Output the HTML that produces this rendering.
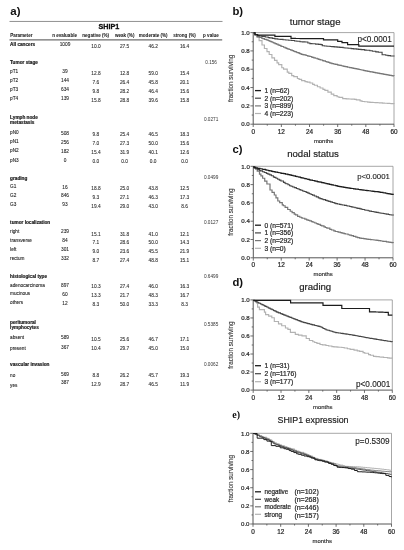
<!DOCTYPE html>
<html><head><meta charset="utf-8"><style>
html,body{margin:0;padding:0;background:#fff;}
svg{display:block;filter:blur(0.3px);}
</style></head><body>
<svg width="404" height="550" viewBox="0 0 404 550" font-family="'Liberation Sans', Arial, sans-serif">
<rect width="404" height="550" fill="#fff"/>
<text x="10.3" y="15.2" font-size="11.5" font-weight="bold" fill="#111">a)</text>
<line x1="9.5" y1="21.45" x2="222.5" y2="21.45" stroke="#8a8a8a" stroke-width="0.95"/>
<text x="108.9" y="28.5" font-size="7.2" font-weight="bold" text-anchor="middle" fill="#111" stroke="#111" stroke-width="0.3">SHIP1</text>
<text x="10.2" y="37.3" font-size="4.55" font-weight="bold" text-anchor="start" fill="#222" stroke="#222" stroke-width="0.05">Parameter</text>
<text x="64.6" y="37.3" font-size="4.55" font-weight="bold" text-anchor="middle" fill="#222" stroke="#222" stroke-width="0.05">n evaluable</text>
<text x="95.7" y="37.3" font-size="4.55" font-weight="bold" text-anchor="middle" fill="#222" stroke="#222" stroke-width="0.05">negative (%)</text>
<text x="124.7" y="37.3" font-size="4.55" font-weight="bold" text-anchor="middle" fill="#222" stroke="#222" stroke-width="0.05">weak (%)</text>
<text x="153.2" y="37.3" font-size="4.55" font-weight="bold" text-anchor="middle" fill="#222" stroke="#222" stroke-width="0.05">moderate (%)</text>
<text x="184.5" y="37.3" font-size="4.55" font-weight="bold" text-anchor="middle" fill="#222" stroke="#222" stroke-width="0.05">strong (%)</text>
<text x="210.9" y="37.3" font-size="4.55" font-weight="bold" text-anchor="middle" fill="#222" stroke="#222" stroke-width="0.05">p value</text>
<line x1="9.5" y1="39.75" x2="222.2" y2="39.75" stroke="#6e6e6e" stroke-width="1.25"/>
<text x="10.1" y="46.1" font-size="4.7" font-weight="bold" stroke="#1a1a1a" stroke-width="0.18" fill="#1a1a1a">All cancers</text>
<text x="65" y="46.3" font-size="4.8" text-anchor="middle" fill="#222" stroke="#222" stroke-width="0.08">1009</text>
<text x="95.9" y="48.2" font-size="4.8" text-anchor="middle" fill="#2a2a2a" stroke="#2a2a2a" stroke-width="0.08">10.0</text>
<text x="124.6" y="48.2" font-size="4.8" text-anchor="middle" fill="#2a2a2a" stroke="#2a2a2a" stroke-width="0.08">27.5</text>
<text x="153.2" y="48.2" font-size="4.8" text-anchor="middle" fill="#2a2a2a" stroke="#2a2a2a" stroke-width="0.08">46.2</text>
<text x="184.6" y="48.2" font-size="4.8" text-anchor="middle" fill="#2a2a2a" stroke="#2a2a2a" stroke-width="0.08">16.4</text>
<text x="10.1" y="64.0" font-size="4.7" font-weight="bold" stroke="#1a1a1a" stroke-width="0.18" fill="#1a1a1a">Tumor stage</text>
<text x="211.1" y="64.0" font-size="4.7" text-anchor="middle" fill="#333">0.156</text>
<text x="10.1" y="72.9" font-size="4.7" stroke="#2a2a2a" stroke-width="0.1" fill="#1a1a1a">pT1</text>
<text x="65" y="73.4" font-size="4.8" text-anchor="middle" fill="#222" stroke="#222" stroke-width="0.08">39</text>
<text x="95.9" y="74.7" font-size="4.8" text-anchor="middle" fill="#2a2a2a" stroke="#2a2a2a" stroke-width="0.08">12.8</text>
<text x="124.6" y="74.7" font-size="4.8" text-anchor="middle" fill="#2a2a2a" stroke="#2a2a2a" stroke-width="0.08">12.8</text>
<text x="153.2" y="74.7" font-size="4.8" text-anchor="middle" fill="#2a2a2a" stroke="#2a2a2a" stroke-width="0.08">59.0</text>
<text x="184.6" y="74.7" font-size="4.8" text-anchor="middle" fill="#2a2a2a" stroke="#2a2a2a" stroke-width="0.08">15.4</text>
<text x="10.1" y="81.8" font-size="4.7" stroke="#2a2a2a" stroke-width="0.1" fill="#1a1a1a">pT2</text>
<text x="65" y="82.3" font-size="4.8" text-anchor="middle" fill="#222" stroke="#222" stroke-width="0.08">144</text>
<text x="95.9" y="83.7" font-size="4.8" text-anchor="middle" fill="#2a2a2a" stroke="#2a2a2a" stroke-width="0.08">7.6</text>
<text x="124.6" y="83.7" font-size="4.8" text-anchor="middle" fill="#2a2a2a" stroke="#2a2a2a" stroke-width="0.08">26.4</text>
<text x="153.2" y="83.7" font-size="4.8" text-anchor="middle" fill="#2a2a2a" stroke="#2a2a2a" stroke-width="0.08">45.8</text>
<text x="184.6" y="83.7" font-size="4.8" text-anchor="middle" fill="#2a2a2a" stroke="#2a2a2a" stroke-width="0.08">20.1</text>
<text x="10.1" y="90.7" font-size="4.7" stroke="#2a2a2a" stroke-width="0.1" fill="#1a1a1a">pT3</text>
<text x="65" y="91.2" font-size="4.8" text-anchor="middle" fill="#222" stroke="#222" stroke-width="0.08">634</text>
<text x="95.9" y="92.6" font-size="4.8" text-anchor="middle" fill="#2a2a2a" stroke="#2a2a2a" stroke-width="0.08">9.8</text>
<text x="124.6" y="92.6" font-size="4.8" text-anchor="middle" fill="#2a2a2a" stroke="#2a2a2a" stroke-width="0.08">28.2</text>
<text x="153.2" y="92.6" font-size="4.8" text-anchor="middle" fill="#2a2a2a" stroke="#2a2a2a" stroke-width="0.08">46.4</text>
<text x="184.6" y="92.6" font-size="4.8" text-anchor="middle" fill="#2a2a2a" stroke="#2a2a2a" stroke-width="0.08">15.6</text>
<text x="10.1" y="99.8" font-size="4.7" stroke="#2a2a2a" stroke-width="0.1" fill="#1a1a1a">pT4</text>
<text x="65" y="100.3" font-size="4.8" text-anchor="middle" fill="#222" stroke="#222" stroke-width="0.08">139</text>
<text x="95.9" y="101.8" font-size="4.8" text-anchor="middle" fill="#2a2a2a" stroke="#2a2a2a" stroke-width="0.08">15.8</text>
<text x="124.6" y="101.8" font-size="4.8" text-anchor="middle" fill="#2a2a2a" stroke="#2a2a2a" stroke-width="0.08">28.8</text>
<text x="153.2" y="101.8" font-size="4.8" text-anchor="middle" fill="#2a2a2a" stroke="#2a2a2a" stroke-width="0.08">39.6</text>
<text x="184.6" y="101.8" font-size="4.8" text-anchor="middle" fill="#2a2a2a" stroke="#2a2a2a" stroke-width="0.08">15.8</text>
<text x="10.1" y="118.8" font-size="4.7" font-weight="bold" stroke="#1a1a1a" stroke-width="0.18" fill="#1a1a1a">Lymph node</text>
<text x="211.1" y="120.8" font-size="4.7" text-anchor="middle" fill="#333">0.0271</text>
<text x="10.1" y="124.4" font-size="4.7" font-weight="bold" stroke="#1a1a1a" stroke-width="0.18" fill="#1a1a1a">metastasis</text>
<text x="10.1" y="134.4" font-size="4.7" stroke="#2a2a2a" stroke-width="0.1" fill="#1a1a1a">pN0</text>
<text x="65" y="134.9" font-size="4.8" text-anchor="middle" fill="#222" stroke="#222" stroke-width="0.08">508</text>
<text x="95.9" y="136.4" font-size="4.8" text-anchor="middle" fill="#2a2a2a" stroke="#2a2a2a" stroke-width="0.08">9.8</text>
<text x="124.6" y="136.4" font-size="4.8" text-anchor="middle" fill="#2a2a2a" stroke="#2a2a2a" stroke-width="0.08">25.4</text>
<text x="153.2" y="136.4" font-size="4.8" text-anchor="middle" fill="#2a2a2a" stroke="#2a2a2a" stroke-width="0.08">46.5</text>
<text x="184.6" y="136.4" font-size="4.8" text-anchor="middle" fill="#2a2a2a" stroke="#2a2a2a" stroke-width="0.08">18.3</text>
<text x="10.1" y="143.4" font-size="4.7" stroke="#2a2a2a" stroke-width="0.1" fill="#1a1a1a">pN1</text>
<text x="65" y="143.9" font-size="4.8" text-anchor="middle" fill="#222" stroke="#222" stroke-width="0.08">256</text>
<text x="95.9" y="145.0" font-size="4.8" text-anchor="middle" fill="#2a2a2a" stroke="#2a2a2a" stroke-width="0.08">7.0</text>
<text x="124.6" y="145.0" font-size="4.8" text-anchor="middle" fill="#2a2a2a" stroke="#2a2a2a" stroke-width="0.08">27.3</text>
<text x="153.2" y="145.0" font-size="4.8" text-anchor="middle" fill="#2a2a2a" stroke="#2a2a2a" stroke-width="0.08">50.0</text>
<text x="184.6" y="145.0" font-size="4.8" text-anchor="middle" fill="#2a2a2a" stroke="#2a2a2a" stroke-width="0.08">15.6</text>
<text x="10.1" y="152.3" font-size="4.7" stroke="#2a2a2a" stroke-width="0.1" fill="#1a1a1a">pN2</text>
<text x="65" y="152.8" font-size="4.8" text-anchor="middle" fill="#222" stroke="#222" stroke-width="0.08">182</text>
<text x="95.9" y="154.0" font-size="4.8" text-anchor="middle" fill="#2a2a2a" stroke="#2a2a2a" stroke-width="0.08">15.4</text>
<text x="124.6" y="154.0" font-size="4.8" text-anchor="middle" fill="#2a2a2a" stroke="#2a2a2a" stroke-width="0.08">31.9</text>
<text x="153.2" y="154.0" font-size="4.8" text-anchor="middle" fill="#2a2a2a" stroke="#2a2a2a" stroke-width="0.08">40.1</text>
<text x="184.6" y="154.0" font-size="4.8" text-anchor="middle" fill="#2a2a2a" stroke="#2a2a2a" stroke-width="0.08">12.6</text>
<text x="10.1" y="161.6" font-size="4.7" stroke="#2a2a2a" stroke-width="0.1" fill="#1a1a1a">pN3</text>
<text x="65" y="162.1" font-size="4.8" text-anchor="middle" fill="#222" stroke="#222" stroke-width="0.08">0</text>
<text x="95.9" y="162.7" font-size="4.8" text-anchor="middle" fill="#2a2a2a" stroke="#2a2a2a" stroke-width="0.08">0.0</text>
<text x="124.6" y="162.7" font-size="4.8" text-anchor="middle" fill="#2a2a2a" stroke="#2a2a2a" stroke-width="0.08">0.0</text>
<text x="153.2" y="162.7" font-size="4.8" text-anchor="middle" fill="#2a2a2a" stroke="#2a2a2a" stroke-width="0.08">0.0</text>
<text x="184.6" y="162.7" font-size="4.8" text-anchor="middle" fill="#2a2a2a" stroke="#2a2a2a" stroke-width="0.08">0.0</text>
<text x="10.1" y="179.7" font-size="4.7" font-weight="bold" stroke="#1a1a1a" stroke-width="0.18" fill="#1a1a1a">grading</text>
<text x="211.1" y="179.4" font-size="4.7" text-anchor="middle" fill="#333">0.0499</text>
<text x="10.1" y="188.0" font-size="4.7" stroke="#2a2a2a" stroke-width="0.1" fill="#1a1a1a">G1</text>
<text x="65" y="188.5" font-size="4.8" text-anchor="middle" fill="#222" stroke="#222" stroke-width="0.08">16</text>
<text x="95.9" y="189.7" font-size="4.8" text-anchor="middle" fill="#2a2a2a" stroke="#2a2a2a" stroke-width="0.08">18.8</text>
<text x="124.6" y="189.7" font-size="4.8" text-anchor="middle" fill="#2a2a2a" stroke="#2a2a2a" stroke-width="0.08">25.0</text>
<text x="153.2" y="189.7" font-size="4.8" text-anchor="middle" fill="#2a2a2a" stroke="#2a2a2a" stroke-width="0.08">43.8</text>
<text x="184.6" y="189.7" font-size="4.8" text-anchor="middle" fill="#2a2a2a" stroke="#2a2a2a" stroke-width="0.08">12.5</text>
<text x="10.1" y="196.9" font-size="4.7" stroke="#2a2a2a" stroke-width="0.1" fill="#1a1a1a">G2</text>
<text x="65" y="197.4" font-size="4.8" text-anchor="middle" fill="#222" stroke="#222" stroke-width="0.08">846</text>
<text x="95.9" y="198.7" font-size="4.8" text-anchor="middle" fill="#2a2a2a" stroke="#2a2a2a" stroke-width="0.08">9.3</text>
<text x="124.6" y="198.7" font-size="4.8" text-anchor="middle" fill="#2a2a2a" stroke="#2a2a2a" stroke-width="0.08">27.1</text>
<text x="153.2" y="198.7" font-size="4.8" text-anchor="middle" fill="#2a2a2a" stroke="#2a2a2a" stroke-width="0.08">46.3</text>
<text x="184.6" y="198.7" font-size="4.8" text-anchor="middle" fill="#2a2a2a" stroke="#2a2a2a" stroke-width="0.08">17.3</text>
<text x="10.1" y="205.8" font-size="4.7" stroke="#2a2a2a" stroke-width="0.1" fill="#1a1a1a">G3</text>
<text x="65" y="206.3" font-size="4.8" text-anchor="middle" fill="#222" stroke="#222" stroke-width="0.08">93</text>
<text x="95.9" y="207.7" font-size="4.8" text-anchor="middle" fill="#2a2a2a" stroke="#2a2a2a" stroke-width="0.08">19.4</text>
<text x="124.6" y="207.7" font-size="4.8" text-anchor="middle" fill="#2a2a2a" stroke="#2a2a2a" stroke-width="0.08">29.0</text>
<text x="153.2" y="207.7" font-size="4.8" text-anchor="middle" fill="#2a2a2a" stroke="#2a2a2a" stroke-width="0.08">43.0</text>
<text x="184.6" y="207.7" font-size="4.8" text-anchor="middle" fill="#2a2a2a" stroke="#2a2a2a" stroke-width="0.08">8.6</text>
<text x="10.1" y="223.9" font-size="4.7" font-weight="bold" stroke="#1a1a1a" stroke-width="0.18" fill="#1a1a1a">tumor localization</text>
<text x="211.1" y="223.8" font-size="4.7" text-anchor="middle" fill="#333">0.0127</text>
<text x="10.1" y="232.8" font-size="4.7" stroke="#2a2a2a" stroke-width="0.1" fill="#1a1a1a">right</text>
<text x="65" y="233.3" font-size="4.8" text-anchor="middle" fill="#222" stroke="#222" stroke-width="0.08">239</text>
<text x="95.9" y="235.6" font-size="4.8" text-anchor="middle" fill="#2a2a2a" stroke="#2a2a2a" stroke-width="0.08">15.1</text>
<text x="124.6" y="235.6" font-size="4.8" text-anchor="middle" fill="#2a2a2a" stroke="#2a2a2a" stroke-width="0.08">31.8</text>
<text x="153.2" y="235.6" font-size="4.8" text-anchor="middle" fill="#2a2a2a" stroke="#2a2a2a" stroke-width="0.08">41.0</text>
<text x="184.6" y="235.6" font-size="4.8" text-anchor="middle" fill="#2a2a2a" stroke="#2a2a2a" stroke-width="0.08">12.1</text>
<text x="10.1" y="241.9" font-size="4.7" stroke="#2a2a2a" stroke-width="0.1" fill="#1a1a1a">transverse</text>
<text x="65" y="242.4" font-size="4.8" text-anchor="middle" fill="#222" stroke="#222" stroke-width="0.08">84</text>
<text x="95.9" y="244.2" font-size="4.8" text-anchor="middle" fill="#2a2a2a" stroke="#2a2a2a" stroke-width="0.08">7.1</text>
<text x="124.6" y="244.2" font-size="4.8" text-anchor="middle" fill="#2a2a2a" stroke="#2a2a2a" stroke-width="0.08">28.6</text>
<text x="153.2" y="244.2" font-size="4.8" text-anchor="middle" fill="#2a2a2a" stroke="#2a2a2a" stroke-width="0.08">50.0</text>
<text x="184.6" y="244.2" font-size="4.8" text-anchor="middle" fill="#2a2a2a" stroke="#2a2a2a" stroke-width="0.08">14.3</text>
<text x="10.1" y="250.7" font-size="4.7" stroke="#2a2a2a" stroke-width="0.1" fill="#1a1a1a">left</text>
<text x="65" y="251.2" font-size="4.8" text-anchor="middle" fill="#222" stroke="#222" stroke-width="0.08">301</text>
<text x="95.9" y="252.9" font-size="4.8" text-anchor="middle" fill="#2a2a2a" stroke="#2a2a2a" stroke-width="0.08">9.0</text>
<text x="124.6" y="252.9" font-size="4.8" text-anchor="middle" fill="#2a2a2a" stroke="#2a2a2a" stroke-width="0.08">23.6</text>
<text x="153.2" y="252.9" font-size="4.8" text-anchor="middle" fill="#2a2a2a" stroke="#2a2a2a" stroke-width="0.08">45.5</text>
<text x="184.6" y="252.9" font-size="4.8" text-anchor="middle" fill="#2a2a2a" stroke="#2a2a2a" stroke-width="0.08">21.9</text>
<text x="10.1" y="259.6" font-size="4.7" stroke="#2a2a2a" stroke-width="0.1" fill="#1a1a1a">rectum</text>
<text x="65" y="260.1" font-size="4.8" text-anchor="middle" fill="#222" stroke="#222" stroke-width="0.08">332</text>
<text x="95.9" y="261.5" font-size="4.8" text-anchor="middle" fill="#2a2a2a" stroke="#2a2a2a" stroke-width="0.08">8.7</text>
<text x="124.6" y="261.5" font-size="4.8" text-anchor="middle" fill="#2a2a2a" stroke="#2a2a2a" stroke-width="0.08">27.4</text>
<text x="153.2" y="261.5" font-size="4.8" text-anchor="middle" fill="#2a2a2a" stroke="#2a2a2a" stroke-width="0.08">48.8</text>
<text x="184.6" y="261.5" font-size="4.8" text-anchor="middle" fill="#2a2a2a" stroke="#2a2a2a" stroke-width="0.08">15.1</text>
<text x="10.1" y="277.6" font-size="4.7" font-weight="bold" stroke="#1a1a1a" stroke-width="0.18" fill="#1a1a1a">histological type</text>
<text x="211.1" y="277.5" font-size="4.7" text-anchor="middle" fill="#333">0.6499</text>
<text x="10.1" y="286.5" font-size="4.7" stroke="#2a2a2a" stroke-width="0.1" fill="#1a1a1a">adenocarcinoma</text>
<text x="65" y="287.0" font-size="4.8" text-anchor="middle" fill="#222" stroke="#222" stroke-width="0.08">897</text>
<text x="95.9" y="288.2" font-size="4.8" text-anchor="middle" fill="#2a2a2a" stroke="#2a2a2a" stroke-width="0.08">10.3</text>
<text x="124.6" y="288.2" font-size="4.8" text-anchor="middle" fill="#2a2a2a" stroke="#2a2a2a" stroke-width="0.08">27.4</text>
<text x="153.2" y="288.2" font-size="4.8" text-anchor="middle" fill="#2a2a2a" stroke="#2a2a2a" stroke-width="0.08">46.0</text>
<text x="184.6" y="288.2" font-size="4.8" text-anchor="middle" fill="#2a2a2a" stroke="#2a2a2a" stroke-width="0.08">16.3</text>
<text x="10.1" y="295.4" font-size="4.7" stroke="#2a2a2a" stroke-width="0.1" fill="#1a1a1a">mucinous</text>
<text x="65" y="295.9" font-size="4.8" text-anchor="middle" fill="#222" stroke="#222" stroke-width="0.08">60</text>
<text x="95.9" y="296.9" font-size="4.8" text-anchor="middle" fill="#2a2a2a" stroke="#2a2a2a" stroke-width="0.08">13.3</text>
<text x="124.6" y="296.9" font-size="4.8" text-anchor="middle" fill="#2a2a2a" stroke="#2a2a2a" stroke-width="0.08">21.7</text>
<text x="153.2" y="296.9" font-size="4.8" text-anchor="middle" fill="#2a2a2a" stroke="#2a2a2a" stroke-width="0.08">48.3</text>
<text x="184.6" y="296.9" font-size="4.8" text-anchor="middle" fill="#2a2a2a" stroke="#2a2a2a" stroke-width="0.08">16.7</text>
<text x="10.1" y="304.4" font-size="4.7" stroke="#2a2a2a" stroke-width="0.1" fill="#1a1a1a">others</text>
<text x="65" y="304.9" font-size="4.8" text-anchor="middle" fill="#222" stroke="#222" stroke-width="0.08">12</text>
<text x="95.9" y="306.2" font-size="4.8" text-anchor="middle" fill="#2a2a2a" stroke="#2a2a2a" stroke-width="0.08">8.3</text>
<text x="124.6" y="306.2" font-size="4.8" text-anchor="middle" fill="#2a2a2a" stroke="#2a2a2a" stroke-width="0.08">50.0</text>
<text x="153.2" y="306.2" font-size="4.8" text-anchor="middle" fill="#2a2a2a" stroke="#2a2a2a" stroke-width="0.08">33.3</text>
<text x="184.6" y="306.2" font-size="4.8" text-anchor="middle" fill="#2a2a2a" stroke="#2a2a2a" stroke-width="0.08">8.3</text>
<text x="10.1" y="323.8" font-size="4.7" font-weight="bold" stroke="#1a1a1a" stroke-width="0.18" fill="#1a1a1a">peritumoral</text>
<text x="211.1" y="326.3" font-size="4.7" text-anchor="middle" fill="#333">0.5385</text>
<text x="10.1" y="329.3" font-size="4.7" font-weight="bold" stroke="#1a1a1a" stroke-width="0.18" fill="#1a1a1a">lymphocytes</text>
<text x="10.1" y="339.2" font-size="4.7" stroke="#2a2a2a" stroke-width="0.1" fill="#1a1a1a">absent</text>
<text x="65" y="339.1" font-size="4.8" text-anchor="middle" fill="#222" stroke="#222" stroke-width="0.08">589</text>
<text x="95.9" y="341.1" font-size="4.8" text-anchor="middle" fill="#2a2a2a" stroke="#2a2a2a" stroke-width="0.08">10.5</text>
<text x="124.6" y="341.1" font-size="4.8" text-anchor="middle" fill="#2a2a2a" stroke="#2a2a2a" stroke-width="0.08">25.6</text>
<text x="153.2" y="341.1" font-size="4.8" text-anchor="middle" fill="#2a2a2a" stroke="#2a2a2a" stroke-width="0.08">46.7</text>
<text x="184.6" y="341.1" font-size="4.8" text-anchor="middle" fill="#2a2a2a" stroke="#2a2a2a" stroke-width="0.08">17.1</text>
<text x="10.1" y="350.1" font-size="4.7" stroke="#2a2a2a" stroke-width="0.1" fill="#1a1a1a">present</text>
<text x="65" y="348.6" font-size="4.8" text-anchor="middle" fill="#222" stroke="#222" stroke-width="0.08">367</text>
<text x="95.9" y="350.1" font-size="4.8" text-anchor="middle" fill="#2a2a2a" stroke="#2a2a2a" stroke-width="0.08">10.4</text>
<text x="124.6" y="350.1" font-size="4.8" text-anchor="middle" fill="#2a2a2a" stroke="#2a2a2a" stroke-width="0.08">29.7</text>
<text x="153.2" y="350.1" font-size="4.8" text-anchor="middle" fill="#2a2a2a" stroke="#2a2a2a" stroke-width="0.08">45.0</text>
<text x="184.6" y="350.1" font-size="4.8" text-anchor="middle" fill="#2a2a2a" stroke="#2a2a2a" stroke-width="0.08">15.0</text>
<text x="10.1" y="366.4" font-size="4.7" font-weight="bold" stroke="#1a1a1a" stroke-width="0.18" fill="#1a1a1a">vascular invasion</text>
<text x="211.1" y="366.4" font-size="4.7" text-anchor="middle" fill="#333">0.0062</text>
<text x="10.1" y="377.4" font-size="4.7" stroke="#2a2a2a" stroke-width="0.1" fill="#1a1a1a">no</text>
<text x="65" y="375.8" font-size="4.8" text-anchor="middle" fill="#222" stroke="#222" stroke-width="0.08">569</text>
<text x="95.9" y="376.8" font-size="4.8" text-anchor="middle" fill="#2a2a2a" stroke="#2a2a2a" stroke-width="0.08">8.8</text>
<text x="124.6" y="376.8" font-size="4.8" text-anchor="middle" fill="#2a2a2a" stroke="#2a2a2a" stroke-width="0.08">26.2</text>
<text x="153.2" y="376.8" font-size="4.8" text-anchor="middle" fill="#2a2a2a" stroke="#2a2a2a" stroke-width="0.08">45.7</text>
<text x="184.6" y="376.8" font-size="4.8" text-anchor="middle" fill="#2a2a2a" stroke="#2a2a2a" stroke-width="0.08">19.3</text>
<text x="10.1" y="386.7" font-size="4.7" stroke="#2a2a2a" stroke-width="0.1" fill="#1a1a1a">yes</text>
<text x="65" y="383.9" font-size="4.8" text-anchor="middle" fill="#222" stroke="#222" stroke-width="0.08">387</text>
<text x="95.9" y="385.8" font-size="4.8" text-anchor="middle" fill="#2a2a2a" stroke="#2a2a2a" stroke-width="0.08">12.9</text>
<text x="124.6" y="385.8" font-size="4.8" text-anchor="middle" fill="#2a2a2a" stroke="#2a2a2a" stroke-width="0.08">28.7</text>
<text x="153.2" y="385.8" font-size="4.8" text-anchor="middle" fill="#2a2a2a" stroke="#2a2a2a" stroke-width="0.08">46.5</text>
<text x="184.6" y="385.8" font-size="4.8" text-anchor="middle" fill="#2a2a2a" stroke="#2a2a2a" stroke-width="0.08">11.9</text>
<text x="232.4" y="15.0" font-size="11.3" font-weight="bold" fill="#111">b)</text>
<text x="315.2" y="25.1" font-size="9.6" text-anchor="middle" fill="#222" stroke="#222" stroke-width="0.18">tumor stage</text>
<path d="M253.2,32.6 H394.0 V124.2" fill="none" stroke="#909090" stroke-width="0.8"/>
<path d="M253.2,32.6 V124.2 H394.0" fill="none" stroke="#555" stroke-width="1.0"/>
<line x1="250.40" y1="124.20" x2="253.2" y2="124.20" stroke="#555" stroke-width="0.85"/>
<text x="249.70" y="126.40" font-size="6.1" text-anchor="end" fill="#2a2a2a" stroke="#2a2a2a" stroke-width="0.22">0.0</text>
<line x1="251.70" y1="115.04" x2="253.2" y2="115.04" stroke="#555" stroke-width="0.85"/>
<line x1="250.40" y1="105.88" x2="253.2" y2="105.88" stroke="#555" stroke-width="0.85"/>
<text x="249.70" y="108.08" font-size="6.1" text-anchor="end" fill="#2a2a2a" stroke="#2a2a2a" stroke-width="0.22">0.2</text>
<line x1="251.70" y1="96.72" x2="253.2" y2="96.72" stroke="#555" stroke-width="0.85"/>
<line x1="250.40" y1="87.56" x2="253.2" y2="87.56" stroke="#555" stroke-width="0.85"/>
<text x="249.70" y="89.76" font-size="6.1" text-anchor="end" fill="#2a2a2a" stroke="#2a2a2a" stroke-width="0.22">0.4</text>
<line x1="251.70" y1="78.40" x2="253.2" y2="78.40" stroke="#555" stroke-width="0.85"/>
<line x1="250.40" y1="69.24" x2="253.2" y2="69.24" stroke="#555" stroke-width="0.85"/>
<text x="249.70" y="71.44" font-size="6.1" text-anchor="end" fill="#2a2a2a" stroke="#2a2a2a" stroke-width="0.22">0.6</text>
<line x1="251.70" y1="60.08" x2="253.2" y2="60.08" stroke="#555" stroke-width="0.85"/>
<line x1="250.40" y1="50.92" x2="253.2" y2="50.92" stroke="#555" stroke-width="0.85"/>
<text x="249.70" y="53.12" font-size="6.1" text-anchor="end" fill="#2a2a2a" stroke="#2a2a2a" stroke-width="0.22">0.8</text>
<line x1="251.70" y1="41.76" x2="253.2" y2="41.76" stroke="#555" stroke-width="0.85"/>
<line x1="250.40" y1="32.60" x2="253.2" y2="32.60" stroke="#555" stroke-width="0.85"/>
<text x="249.70" y="34.80" font-size="6.1" text-anchor="end" fill="#2a2a2a" stroke="#2a2a2a" stroke-width="0.22">1.0</text>
<line x1="253.20" y1="124.2" x2="253.20" y2="127.0" stroke="#555" stroke-width="0.85"/>
<text x="253.20" y="133.80" font-size="6.4" text-anchor="middle" fill="#2a2a2a" stroke="#2a2a2a" stroke-width="0.22">0</text>
<line x1="267.28" y1="124.2" x2="267.28" y2="125.7" stroke="#555" stroke-width="0.85"/>
<line x1="281.36" y1="124.2" x2="281.36" y2="127.0" stroke="#555" stroke-width="0.85"/>
<text x="281.36" y="133.80" font-size="6.4" text-anchor="middle" fill="#2a2a2a" stroke="#2a2a2a" stroke-width="0.22">12</text>
<line x1="295.44" y1="124.2" x2="295.44" y2="125.7" stroke="#555" stroke-width="0.85"/>
<line x1="309.52" y1="124.2" x2="309.52" y2="127.0" stroke="#555" stroke-width="0.85"/>
<text x="309.52" y="133.80" font-size="6.4" text-anchor="middle" fill="#2a2a2a" stroke="#2a2a2a" stroke-width="0.22">24</text>
<line x1="323.60" y1="124.2" x2="323.60" y2="125.7" stroke="#555" stroke-width="0.85"/>
<line x1="337.68" y1="124.2" x2="337.68" y2="127.0" stroke="#555" stroke-width="0.85"/>
<text x="337.68" y="133.80" font-size="6.4" text-anchor="middle" fill="#2a2a2a" stroke="#2a2a2a" stroke-width="0.22">36</text>
<line x1="351.76" y1="124.2" x2="351.76" y2="125.7" stroke="#555" stroke-width="0.85"/>
<line x1="365.84" y1="124.2" x2="365.84" y2="127.0" stroke="#555" stroke-width="0.85"/>
<text x="365.84" y="133.80" font-size="6.4" text-anchor="middle" fill="#2a2a2a" stroke="#2a2a2a" stroke-width="0.22">48</text>
<line x1="379.92" y1="124.2" x2="379.92" y2="125.7" stroke="#555" stroke-width="0.85"/>
<line x1="394.00" y1="124.2" x2="394.00" y2="127.0" stroke="#555" stroke-width="0.85"/>
<text x="394.00" y="133.80" font-size="6.4" text-anchor="middle" fill="#2a2a2a" stroke="#2a2a2a" stroke-width="0.22">60</text>
<text x="323.60" y="142.6" font-size="5.9" text-anchor="middle" fill="#333" stroke="#333" stroke-width="0.18">months</text>
<text x="0" y="0" font-size="6.3" text-anchor="middle" fill="#333" stroke="#333" stroke-width="0.1" transform="translate(232.7,78.4) rotate(-90)">fraction surviving</text>
<path d="M253.50,32.80 L255.00,32.80 L255.00,34.60 L257.00,34.60 L257.00,37.40 L259.11,37.40 L259.11,40.60 L262.00,40.60 L262.00,45.00 L264.40,45.00 L264.40,48.50 L266.97,48.50 L266.97,51.68 L269.20,51.68 L269.20,54.46 L271.90,54.46 L271.90,57.80 L274.53,57.80 L274.53,60.43 L277.04,60.43 L277.04,62.94 L278.68,62.94 L278.68,64.58 L281.80,64.58 L281.80,67.70 L283.55,67.70 L283.55,69.10 L287.25,69.10 L287.25,72.05 L288.87,72.05 L288.87,73.34 L291.70,73.34 L291.70,75.60 L293.78,75.60 L293.78,76.65 L297.39,76.65 L297.39,78.47 L299.08,78.47 L299.08,79.33 L301.60,79.33 L301.60,80.60 L304.97,80.60 L304.97,81.56 L307.16,81.56 L307.16,82.19 L310.00,82.19 L310.00,83.00 L312.67,83.00 L312.67,84.34 L314.42,84.34 L314.42,85.21 L317.40,85.21 L317.40,86.70 L320.10,86.70 L320.10,88.03 L322.95,88.03 L322.95,89.44 L324.90,89.44 L324.90,90.40 L327.91,90.40 L327.91,92.16 L331.26,92.16 L331.26,94.12 L333.80,94.12 L333.80,95.60 L337.07,95.60 L337.07,96.70 L338.96,96.70 L338.96,97.34 L342.70,97.34 L342.70,98.60 L346.14,98.60 L346.14,98.80 L348.81,98.80 L348.81,98.96 L351.27,98.96 L351.27,99.10 L354.60,99.10 L354.60,99.30 L356.37,99.30 L356.37,99.83 L360.07,99.83 L360.07,100.93 L362.00,100.93 L362.00,101.50 L364.62,101.50 L364.62,101.76 L367.68,101.76 L367.68,102.07 L370.00,102.07 L370.00,102.30 L372.95,102.30 L372.95,102.48 L375.11,102.48 L375.11,102.62 L377.81,102.62 L377.81,102.79 L379.45,102.79 L379.45,102.89 L382.43,102.89 L382.43,103.08 L384.32,103.08 L384.32,103.20 L387.43,103.20 L387.43,103.39 L389.75,103.39 L389.75,103.53 L391.02,103.53 L391.02,103.61 L394.00,103.61 L394.00,103.80" fill="none" stroke="#b2b2b2" stroke-width="1.15" stroke-linejoin="miter"/>
<path d="M253.50,32.80 L255.00,32.80 L255.00,34.60 L257.00,34.60 L257.00,36.50 L258.16,36.50 L258.16,36.94 L259.71,36.94 L259.71,37.52 L261.85,37.52 L261.85,38.34 L262.86,38.34 L262.86,38.72 L264.40,38.72 L264.40,39.30 L266.34,39.30 L266.34,39.95 L268.00,39.95 L268.00,40.50 L269.22,40.50 L269.22,41.03 L270.77,41.03 L270.77,41.70 L272.05,41.70 L272.05,42.26 L273.40,42.26 L273.40,42.85 L274.97,42.85 L274.97,43.53 L276.35,43.53 L276.35,44.13 L277.99,44.13 L277.99,44.85 L279.19,44.85 L279.19,45.37 L280.78,45.37 L280.78,46.05 L281.80,46.05 L281.80,46.50 L283.57,46.50 L283.57,47.23 L285.15,47.23 L285.15,47.88 L286.33,47.88 L286.33,48.36 L287.34,48.36 L287.34,48.78 L289.10,48.78 L289.10,49.50 L290.79,49.50 L290.79,50.15 L292.26,50.15 L292.26,50.72 L293.60,50.72 L293.60,51.23 L294.71,51.23 L294.71,51.66 L296.22,51.66 L296.22,52.24 L297.19,52.24 L297.19,52.61 L299.10,52.61 L299.10,53.34 L300.27,53.34 L300.27,53.79 L301.60,53.79 L301.60,54.30 L302.80,54.30 L302.80,54.62 L304.00,54.62 L304.00,54.94 L306.04,54.94 L306.04,55.48 L307.54,55.48 L307.54,55.87 L308.18,55.87 L308.18,56.04 L309.90,56.04 L309.90,56.50 L311.57,56.50 L311.57,57.04 L312.65,57.04 L312.65,57.39 L313.85,57.39 L313.85,57.78 L315.38,57.78 L315.38,58.27 L317.20,58.27 L317.20,58.86 L318.70,58.86 L318.70,59.35 L319.80,59.35 L319.80,59.70 L320.78,59.70 L320.78,60.01 L322.58,60.01 L322.58,60.60 L323.47,60.60 L323.47,60.88 L325.35,60.88 L325.35,61.49 L326.39,61.49 L326.39,61.82 L328.17,61.82 L328.17,62.40 L329.60,62.40 L329.60,62.86 L330.56,62.86 L330.56,63.17 L331.90,63.17 L331.90,63.60 L333.68,63.60 L333.68,64.00 L334.48,64.00 L334.48,64.18 L335.66,64.18 L335.66,64.44 L337.46,64.44 L337.46,64.85 L338.36,64.85 L338.36,65.05 L339.87,65.05 L339.87,65.39 L341.41,65.39 L341.41,65.74 L342.94,65.74 L342.94,66.08 L343.94,66.08 L343.94,66.31 L345.22,66.31 L345.22,66.59 L347.26,66.59 L347.26,67.05 L348.18,67.05 L348.18,67.26 L349.70,67.26 L349.70,67.60 L351.38,67.60 L351.38,67.94 L352.65,67.94 L352.65,68.20 L353.56,68.20 L353.56,68.38 L354.95,68.38 L354.95,68.66 L356.32,68.66 L356.32,68.94 L357.73,68.94 L357.73,69.22 L359.02,69.22 L359.02,69.48 L360.31,69.48 L360.31,69.74 L361.68,69.74 L361.68,70.02 L363.25,70.02 L363.25,70.34 L364.23,70.34 L364.23,70.53 L365.49,70.53 L365.49,70.79 L367.03,70.79 L367.03,71.10 L367.97,71.10 L367.97,71.29 L369.50,71.29 L369.50,71.60 L370.70,71.60 L370.70,71.82 L372.61,71.82 L372.61,72.17 L373.60,72.17 L373.60,72.35 L374.98,72.35 L374.98,72.61 L375.91,72.61 L375.91,72.78 L377.60,72.78 L377.60,73.09 L379.09,73.09 L379.09,73.36 L380.00,73.36 L380.00,73.53 L381.84,73.53 L381.84,73.87 L383.22,73.87 L383.22,74.12 L384.11,74.12 L384.11,74.28 L385.94,74.28 L385.94,74.62 L387.17,74.62 L387.17,74.84 L388.70,74.84 L388.70,75.13 L389.80,75.13 L389.80,75.33 L391.45,75.33 L391.45,75.63 L392.83,75.63 L392.83,75.89 L394.00,75.89 L394.00,76.10" fill="none" stroke="#767676" stroke-width="1.2" stroke-linejoin="miter"/>
<path d="M253.50,32.80 L255.00,32.80 L255.00,34.60 L257.60,34.60 L257.60,35.60 L259.36,35.60 L259.36,35.94 L261.89,35.94 L261.89,36.42 L265.28,36.42 L265.28,37.06 L268.17,37.06 L268.17,37.62 L269.59,37.62 L269.59,37.89 L272.36,37.89 L272.36,38.42 L274.90,38.42 L274.90,38.90 L277.84,38.90 L277.84,39.18 L280.17,39.18 L280.17,39.40 L283.02,39.40 L283.02,39.68 L285.72,39.68 L285.72,39.94 L288.60,39.94 L288.60,40.21 L291.60,40.21 L291.60,40.50 L294.56,40.50 L294.56,40.96 L296.86,40.96 L296.86,41.31 L300.00,41.31 L300.00,41.80 L302.32,41.80 L302.32,41.89 L305.00,41.89 L305.00,42.00 L307.85,42.00 L307.85,42.93 L309.90,42.93 L309.90,43.60 L311.89,43.60 L311.89,43.78 L315.57,43.78 L315.57,44.11 L318.62,44.11 L318.62,44.39 L321.00,44.39 L321.00,44.60 L322.30,44.60 L322.30,45.80 L324.49,45.80 L324.49,45.99 L326.82,45.99 L326.82,46.20 L330.15,46.20 L330.15,46.49 L331.78,46.49 L331.78,46.63 L334.17,46.63 L334.17,46.84 L337.10,46.84 L337.10,47.10 L339.81,47.10 L339.81,47.39 L343.08,47.39 L343.08,47.74 L344.89,47.74 L344.89,47.93 L348.08,47.93 L348.08,48.27 L351.20,48.27 L351.20,48.60 L353.43,48.60 L353.43,48.83 L356.65,48.83 L356.65,49.15 L358.53,49.15 L358.53,49.34 L361.10,49.34 L361.10,49.60 L364.62,49.60 L364.62,50.09 L366.32,50.09 L366.32,50.32 L369.80,50.32 L369.80,50.80 L372.39,50.80 L372.39,51.25 L375.79,51.25 L375.79,51.85 L378.40,51.85 L378.40,52.30 L382.10,52.30 L382.10,54.80 L385.76,54.80 L385.76,55.29 L387.96,55.29 L387.96,55.59 L390.53,55.59 L390.53,55.93 L394.00,55.93 L394.00,56.40" fill="none" stroke="#454545" stroke-width="1.1" stroke-linejoin="miter"/>
<path d="M253.50,32.80 L255.00,32.80 L255.00,34.60 L257.60,34.60 L257.60,35.20 L274.90,35.20 L274.90,36.40 L291.00,36.40 L291.00,38.40 L292.70,38.40 L292.70,38.43 L295.44,38.43 L295.44,38.48 L297.19,38.48 L297.19,38.51 L300.20,38.51 L300.20,38.57 L302.00,38.57 L302.00,38.60 L304.87,38.60 L304.87,38.61 L306.32,38.61 L306.32,38.62 L308.85,38.62 L308.85,38.63 L312.00,38.63 L312.00,38.65 L314.15,38.65 L314.15,38.66 L316.77,38.66 L316.77,38.67 L318.50,38.67 L318.50,38.68 L320.58,38.68 L320.58,38.69 L323.50,38.69 L323.50,38.70 L323.50,39.90 L337.70,39.90 L337.70,41.40 L342.00,41.40 L342.00,42.70 L347.60,42.70 L347.60,44.60 L358.80,44.60 L358.80,46.10 L394.00,46.10" fill="none" stroke="#1c1c1c" stroke-width="1.2" stroke-linejoin="miter"/>
<line x1="255" y1="90.6" x2="261" y2="90.6" stroke="#1c1c1c" stroke-width="1.3"/>
<text x="264.4" y="93.0" font-size="6.7" fill="#2a2a2a" stroke="#2a2a2a" stroke-width="0.22">1 (n=62)</text>
<line x1="255" y1="98.2" x2="261" y2="98.2" stroke="#454545" stroke-width="1.2"/>
<text x="264.4" y="100.7" font-size="6.7" fill="#2a2a2a" stroke="#2a2a2a" stroke-width="0.22">2 (n=202)</text>
<line x1="255" y1="105.9" x2="261" y2="105.9" stroke="#767676" stroke-width="1.2"/>
<text x="264.4" y="108.3" font-size="6.7" fill="#2a2a2a" stroke="#2a2a2a" stroke-width="0.22">3 (n=899)</text>
<line x1="255" y1="113.5" x2="261" y2="113.5" stroke="#b2b2b2" stroke-width="1.2"/>
<text x="264.4" y="116.0" font-size="6.7" fill="#2a2a2a" stroke="#2a2a2a" stroke-width="0.22">4 (n=223)</text>
<text x="391.9" y="42.4" font-size="8.2" text-anchor="end" fill="#222" stroke="#222" stroke-width="0.12">p&lt;0.0001</text>
<text x="232.4" y="152.9" font-size="11.3" font-weight="bold" fill="#111">c)</text>
<text x="313" y="156.7" font-size="9.6" text-anchor="middle" fill="#222" stroke="#222" stroke-width="0.18">nodal status</text>
<path d="M253.3,166.3 H393.0 V257.8" fill="none" stroke="#909090" stroke-width="0.8"/>
<path d="M253.3,166.3 V257.8 H393.0" fill="none" stroke="#555" stroke-width="1.0"/>
<line x1="250.50" y1="257.80" x2="253.3" y2="257.80" stroke="#555" stroke-width="0.85"/>
<text x="249.80" y="260.00" font-size="6.1" text-anchor="end" fill="#2a2a2a" stroke="#2a2a2a" stroke-width="0.22">0.0</text>
<line x1="251.80" y1="248.65" x2="253.3" y2="248.65" stroke="#555" stroke-width="0.85"/>
<line x1="250.50" y1="239.50" x2="253.3" y2="239.50" stroke="#555" stroke-width="0.85"/>
<text x="249.80" y="241.70" font-size="6.1" text-anchor="end" fill="#2a2a2a" stroke="#2a2a2a" stroke-width="0.22">0.2</text>
<line x1="251.80" y1="230.35" x2="253.3" y2="230.35" stroke="#555" stroke-width="0.85"/>
<line x1="250.50" y1="221.20" x2="253.3" y2="221.20" stroke="#555" stroke-width="0.85"/>
<text x="249.80" y="223.40" font-size="6.1" text-anchor="end" fill="#2a2a2a" stroke="#2a2a2a" stroke-width="0.22">0.4</text>
<line x1="251.80" y1="212.05" x2="253.3" y2="212.05" stroke="#555" stroke-width="0.85"/>
<line x1="250.50" y1="202.90" x2="253.3" y2="202.90" stroke="#555" stroke-width="0.85"/>
<text x="249.80" y="205.10" font-size="6.1" text-anchor="end" fill="#2a2a2a" stroke="#2a2a2a" stroke-width="0.22">0.6</text>
<line x1="251.80" y1="193.75" x2="253.3" y2="193.75" stroke="#555" stroke-width="0.85"/>
<line x1="250.50" y1="184.60" x2="253.3" y2="184.60" stroke="#555" stroke-width="0.85"/>
<text x="249.80" y="186.80" font-size="6.1" text-anchor="end" fill="#2a2a2a" stroke="#2a2a2a" stroke-width="0.22">0.8</text>
<line x1="251.80" y1="175.45" x2="253.3" y2="175.45" stroke="#555" stroke-width="0.85"/>
<line x1="250.50" y1="166.30" x2="253.3" y2="166.30" stroke="#555" stroke-width="0.85"/>
<text x="249.80" y="168.50" font-size="6.1" text-anchor="end" fill="#2a2a2a" stroke="#2a2a2a" stroke-width="0.22">1.0</text>
<line x1="253.30" y1="257.8" x2="253.30" y2="260.6" stroke="#555" stroke-width="0.85"/>
<text x="253.30" y="267.20" font-size="6.4" text-anchor="middle" fill="#2a2a2a" stroke="#2a2a2a" stroke-width="0.22">0</text>
<line x1="267.27" y1="257.8" x2="267.27" y2="259.3" stroke="#555" stroke-width="0.85"/>
<line x1="281.24" y1="257.8" x2="281.24" y2="260.6" stroke="#555" stroke-width="0.85"/>
<text x="281.24" y="267.20" font-size="6.4" text-anchor="middle" fill="#2a2a2a" stroke="#2a2a2a" stroke-width="0.22">12</text>
<line x1="295.21" y1="257.8" x2="295.21" y2="259.3" stroke="#555" stroke-width="0.85"/>
<line x1="309.18" y1="257.8" x2="309.18" y2="260.6" stroke="#555" stroke-width="0.85"/>
<text x="309.18" y="267.20" font-size="6.4" text-anchor="middle" fill="#2a2a2a" stroke="#2a2a2a" stroke-width="0.22">24</text>
<line x1="323.15" y1="257.8" x2="323.15" y2="259.3" stroke="#555" stroke-width="0.85"/>
<line x1="337.12" y1="257.8" x2="337.12" y2="260.6" stroke="#555" stroke-width="0.85"/>
<text x="337.12" y="267.20" font-size="6.4" text-anchor="middle" fill="#2a2a2a" stroke="#2a2a2a" stroke-width="0.22">36</text>
<line x1="351.09" y1="257.8" x2="351.09" y2="259.3" stroke="#555" stroke-width="0.85"/>
<line x1="365.06" y1="257.8" x2="365.06" y2="260.6" stroke="#555" stroke-width="0.85"/>
<text x="365.06" y="267.20" font-size="6.4" text-anchor="middle" fill="#2a2a2a" stroke="#2a2a2a" stroke-width="0.22">48</text>
<line x1="379.03" y1="257.8" x2="379.03" y2="259.3" stroke="#555" stroke-width="0.85"/>
<line x1="393.00" y1="257.8" x2="393.00" y2="260.6" stroke="#555" stroke-width="0.85"/>
<text x="393.00" y="267.20" font-size="6.4" text-anchor="middle" fill="#2a2a2a" stroke="#2a2a2a" stroke-width="0.22">60</text>
<text x="323.15" y="276.4" font-size="5.9" text-anchor="middle" fill="#333" stroke="#333" stroke-width="0.18">months</text>
<text x="0" y="0" font-size="6.3" text-anchor="middle" fill="#333" stroke="#333" stroke-width="0.1" transform="translate(232.7,212.1) rotate(-90)">fraction surviving</text>
<path d="M253.40,166.50 L255.70,166.50 L255.70,169.20 L257.22,169.20 L257.22,171.15 L259.47,171.15 L259.47,174.06 L260.90,174.06 L260.90,175.90 L262.63,175.90 L262.63,178.23 L264.72,178.23 L264.72,181.05 L266.90,181.05 L266.90,184.00 L270.00,184.00 L270.00,190.00 L272.04,190.00 L272.04,192.38 L274.30,192.38 L274.30,195.00 L275.97,195.00 L275.97,197.86 L277.80,197.86 L277.80,201.00 L279.67,201.00 L279.67,202.61 L282.26,202.61 L282.26,204.83 L283.33,204.83 L283.33,205.75 L285.13,205.75 L285.13,207.29 L287.70,207.29 L287.70,209.50 L290.21,209.50 L290.21,211.25 L292.11,211.25 L292.11,212.57 L294.22,212.57 L294.22,214.04 L295.54,214.04 L295.54,214.97 L297.60,214.97 L297.60,216.40 L299.81,216.40 L299.81,217.23 L301.52,217.23 L301.52,217.87 L302.52,217.87 L302.52,218.24 L304.81,218.24 L304.81,219.10 L306.64,219.10 L306.64,219.78 L308.19,219.78 L308.19,220.36 L309.78,220.36 L309.78,220.96 L311.50,220.96 L311.50,221.60 L313.02,221.60 L313.02,222.24 L314.81,222.24 L314.81,223.00 L316.43,223.00 L316.43,223.69 L318.00,223.69 L318.00,224.36 L320.28,224.36 L320.28,225.33 L321.70,225.33 L321.70,225.93 L323.99,225.93 L323.99,226.90 L325.40,226.90 L325.40,227.50 L326.84,227.50 L326.84,228.08 L329.84,228.08 L329.84,229.29 L331.57,229.29 L331.57,229.99 L333.82,229.99 L333.82,230.90 L335.30,230.90 L335.30,231.50 L338.06,231.50 L338.06,232.16 L340.30,232.16 L340.30,232.69 L342.00,232.69 L342.00,233.10 L344.01,233.10 L344.01,233.65 L345.29,233.65 L345.29,234.00 L348.06,234.00 L348.06,234.75 L349.70,234.75 L349.70,235.20 L351.29,235.20 L351.29,235.68 L353.42,235.68 L353.42,236.33 L355.83,236.33 L355.83,237.06 L357.65,237.06 L357.65,237.61 L359.60,237.61 L359.60,238.20 L361.26,238.20 L361.26,238.41 L363.57,238.41 L363.57,238.70 L364.98,238.70 L364.98,238.88 L366.46,238.88 L366.46,239.07 L368.12,239.07 L368.12,239.28 L370.51,239.28 L370.51,239.58 L371.86,239.58 L371.86,239.75 L373.94,239.75 L373.94,240.02 L375.40,240.02 L375.40,240.20 L377.03,240.20 L377.03,240.44 L378.65,240.44 L378.65,240.67 L380.81,240.67 L380.81,240.99 L382.90,240.99 L382.90,241.29 L384.00,241.29 L384.00,241.45 L386.45,241.45 L386.45,241.81 L388.38,241.81 L388.38,242.09 L390.05,242.09 L390.05,242.33 L391.86,242.33 L391.86,242.59 L393.30,242.59 L393.30,242.80" fill="none" stroke="#767676" stroke-width="1.2" stroke-linejoin="miter"/>
<path d="M253.40,166.50 L254.00,166.50 L254.00,168.00 L255.24,168.00 L255.24,168.54 L257.65,168.54 L257.65,169.59 L259.65,169.59 L259.65,170.47 L260.55,170.47 L260.55,170.86 L262.54,170.86 L262.54,171.73 L264.29,171.73 L264.29,172.49 L266.32,172.49 L266.32,173.38 L267.96,173.38 L267.96,174.10 L269.80,174.10 L269.80,174.90 L271.42,174.90 L271.42,175.79 L273.37,175.79 L273.37,176.85 L274.26,176.85 L274.26,177.33 L275.96,177.33 L275.96,178.26 L277.68,178.26 L277.68,179.20 L279.33,179.20 L279.33,180.10 L280.92,180.10 L280.92,180.97 L283.47,180.97 L283.47,182.36 L285.00,182.36 L285.00,183.19 L285.89,183.19 L285.89,183.68 L287.95,183.68 L287.95,184.80 L289.60,184.80 L289.60,185.70 L291.07,185.70 L291.07,186.29 L292.72,186.29 L292.72,186.96 L294.40,186.96 L294.40,187.64 L296.35,187.64 L296.35,188.43 L297.94,188.43 L297.94,189.07 L299.36,189.07 L299.36,189.64 L300.84,189.64 L300.84,190.24 L302.63,190.24 L302.63,190.96 L304.08,190.96 L304.08,191.55 L306.15,191.55 L306.15,192.39 L307.96,192.39 L307.96,193.12 L309.40,193.12 L309.40,193.70 L311.04,193.70 L311.04,194.46 L312.49,194.46 L312.49,195.13 L314.36,195.13 L314.36,195.99 L316.33,195.99 L316.33,196.90 L318.34,196.90 L318.34,197.83 L320.00,197.83 L320.00,198.60 L322.05,198.60 L322.05,199.25 L323.38,199.25 L323.38,199.67 L325.58,199.67 L325.58,200.37 L327.15,200.37 L327.15,200.86 L328.71,200.86 L328.71,201.35 L330.40,201.35 L330.40,201.89 L332.28,201.89 L332.28,202.49 L334.26,202.49 L334.26,203.11 L335.80,203.11 L335.80,203.60 L337.45,203.60 L337.45,203.95 L339.48,203.95 L339.48,204.37 L340.97,204.37 L340.97,204.68 L342.48,204.68 L342.48,204.99 L344.52,204.99 L344.52,205.42 L346.43,205.42 L346.43,205.82 L347.52,205.82 L347.52,206.04 L349.70,206.04 L349.70,206.50 L351.28,206.50 L351.28,206.87 L352.93,206.87 L352.93,207.25 L355.03,207.25 L355.03,207.74 L356.73,207.74 L356.73,208.13 L357.83,208.13 L357.83,208.39 L359.99,208.39 L359.99,208.89 L361.54,208.89 L361.54,209.25 L362.66,209.25 L362.66,209.51 L364.51,209.51 L364.51,209.94 L365.83,209.94 L365.83,210.25 L368.16,210.25 L368.16,210.79 L369.50,210.79 L369.50,211.10 L371.37,211.10 L371.37,211.44 L373.30,211.44 L373.30,211.79 L374.90,211.79 L374.90,212.08 L376.47,212.08 L376.47,212.36 L378.24,212.36 L378.24,212.68 L379.77,212.68 L379.77,212.95 L381.00,212.95 L381.00,213.18 L383.19,213.18 L383.19,213.57 L384.29,213.57 L384.29,213.77 L386.14,213.77 L386.14,214.11 L388.48,214.11 L388.48,214.53 L389.44,214.53 L389.44,214.70 L391.18,214.70 L391.18,215.02 L393.30,215.02 L393.30,215.40" fill="none" stroke="#454545" stroke-width="1.1" stroke-linejoin="miter"/>
<path d="M253.40,166.50 L254.00,166.50 L254.00,167.50 L255.20,167.50 L255.20,167.76 L257.52,167.76 L257.52,168.26 L258.44,168.26 L258.44,168.45 L259.87,168.45 L259.87,168.76 L262.22,168.76 L262.22,169.27 L263.12,169.27 L263.12,169.46 L265.39,169.46 L265.39,169.95 L266.80,169.95 L266.80,170.26 L268.54,170.26 L268.54,170.63 L269.80,170.63 L269.80,170.90 L271.74,170.90 L271.74,171.29 L272.92,171.29 L272.92,171.53 L274.64,171.53 L274.64,171.88 L275.47,171.88 L275.47,172.05 L277.66,172.05 L277.66,172.49 L278.95,172.49 L278.95,172.75 L280.66,172.75 L280.66,173.09 L281.63,173.09 L281.63,173.29 L283.74,173.29 L283.74,173.72 L285.43,173.72 L285.43,174.06 L286.15,174.06 L286.15,174.20 L287.92,174.20 L287.92,174.56 L289.60,174.56 L289.60,174.90 L291.18,174.90 L291.18,175.29 L292.95,175.29 L292.95,175.73 L293.93,175.73 L293.93,175.97 L295.40,175.97 L295.40,176.34 L296.99,176.34 L296.99,176.73 L298.84,176.73 L298.84,177.19 L300.49,177.19 L300.49,177.60 L301.69,177.60 L301.69,177.89 L303.19,177.89 L303.19,178.26 L304.74,178.26 L304.74,178.65 L306.22,178.65 L306.22,179.01 L307.80,179.01 L307.80,179.40 L309.40,179.40 L309.40,179.80 L310.54,179.80 L310.54,180.06 L312.43,180.06 L312.43,180.49 L314.37,180.49 L314.37,180.93 L315.38,180.93 L315.38,181.15 L317.20,181.15 L317.20,181.57 L318.18,181.57 L318.18,181.79 L320.00,181.79 L320.00,182.20 L321.70,182.20 L321.70,182.59 L323.28,182.59 L323.28,182.95 L324.73,182.95 L324.73,183.27 L326.11,183.27 L326.11,183.59 L327.60,183.59 L327.60,183.93 L329.27,183.93 L329.27,184.31 L331.02,184.31 L331.02,184.71 L331.86,184.71 L331.86,184.90 L333.34,184.90 L333.34,185.23 L335.46,185.23 L335.46,185.71 L337.13,185.71 L337.13,186.09 L338.29,186.09 L338.29,186.36 L339.80,186.36 L339.80,186.70 L341.27,186.70 L341.27,186.92 L343.05,186.92 L343.05,187.19 L344.08,187.19 L344.08,187.35 L345.68,187.35 L345.68,187.59 L347.14,187.59 L347.14,187.81 L349.02,187.81 L349.02,188.10 L350.29,188.10 L350.29,188.29 L351.74,188.29 L351.74,188.51 L353.68,188.51 L353.68,188.80 L355.45,188.80 L355.45,189.07 L356.37,189.07 L356.37,189.21 L358.26,189.21 L358.26,189.50 L359.60,189.50 L359.60,189.70 L361.04,189.70 L361.04,189.88 L362.97,189.88 L362.97,190.11 L364.25,190.11 L364.25,190.26 L365.48,190.26 L365.48,190.41 L366.96,190.41 L366.96,190.59 L368.30,190.59 L368.30,190.75 L370.24,190.75 L370.24,190.99 L371.68,190.99 L371.68,191.16 L373.01,191.16 L373.01,191.33 L374.70,191.33 L374.70,191.53 L376.19,191.53 L376.19,191.71 L378.13,191.71 L378.13,191.95 L379.40,191.95 L379.40,192.10 L380.61,192.10 L380.61,192.33 L382.94,192.33 L382.94,192.76 L384.01,192.76 L384.01,192.96 L385.67,192.96 L385.67,193.27 L387.09,193.27 L387.09,193.54 L388.98,193.54 L388.98,193.89 L390.51,193.89 L390.51,194.18 L391.81,194.18 L391.81,194.42 L393.30,194.42 L393.30,194.70" fill="none" stroke="#1c1c1c" stroke-width="1.2" stroke-linejoin="miter"/>
<line x1="255" y1="225.2" x2="261" y2="225.2" stroke="#1c1c1c" stroke-width="1.3"/>
<text x="264.4" y="227.6" font-size="6.7" fill="#2a2a2a" stroke="#2a2a2a" stroke-width="0.22">0 (n=571)</text>
<line x1="255" y1="232.9" x2="261" y2="232.9" stroke="#454545" stroke-width="1.2"/>
<text x="264.4" y="235.3" font-size="6.7" fill="#2a2a2a" stroke="#2a2a2a" stroke-width="0.22">1 (n=356)</text>
<line x1="255" y1="240.6" x2="261" y2="240.6" stroke="#767676" stroke-width="1.2"/>
<text x="264.4" y="243.0" font-size="6.7" fill="#2a2a2a" stroke="#2a2a2a" stroke-width="0.22">2 (n=292)</text>
<line x1="255" y1="248.3" x2="261" y2="248.3" stroke="#b2b2b2" stroke-width="1.2"/>
<text x="264.4" y="250.7" font-size="6.7" fill="#2a2a2a" stroke="#2a2a2a" stroke-width="0.22">3 (n=0)</text>
<text x="389.9" y="178.5" font-size="7.8" text-anchor="end" fill="#222" stroke="#222" stroke-width="0.12">p&lt;0.0001</text>
<text x="232.4" y="286.0" font-size="11.3" font-weight="bold" fill="#111">d)</text>
<text x="315.2" y="289.8" font-size="9.6" text-anchor="middle" fill="#222" stroke="#222" stroke-width="0.18">grading</text>
<path d="M253.2,299.9 H392.3 V390.1" fill="none" stroke="#909090" stroke-width="0.8"/>
<path d="M253.2,299.9 V390.1 H392.3" fill="none" stroke="#555" stroke-width="1.0"/>
<line x1="250.40" y1="390.10" x2="253.2" y2="390.10" stroke="#555" stroke-width="0.85"/>
<text x="249.70" y="392.30" font-size="6.1" text-anchor="end" fill="#2a2a2a" stroke="#2a2a2a" stroke-width="0.22">0.0</text>
<line x1="251.70" y1="381.08" x2="253.2" y2="381.08" stroke="#555" stroke-width="0.85"/>
<line x1="250.40" y1="372.06" x2="253.2" y2="372.06" stroke="#555" stroke-width="0.85"/>
<text x="249.70" y="374.26" font-size="6.1" text-anchor="end" fill="#2a2a2a" stroke="#2a2a2a" stroke-width="0.22">0.2</text>
<line x1="251.70" y1="363.04" x2="253.2" y2="363.04" stroke="#555" stroke-width="0.85"/>
<line x1="250.40" y1="354.02" x2="253.2" y2="354.02" stroke="#555" stroke-width="0.85"/>
<text x="249.70" y="356.22" font-size="6.1" text-anchor="end" fill="#2a2a2a" stroke="#2a2a2a" stroke-width="0.22">0.4</text>
<line x1="251.70" y1="345.00" x2="253.2" y2="345.00" stroke="#555" stroke-width="0.85"/>
<line x1="250.40" y1="335.98" x2="253.2" y2="335.98" stroke="#555" stroke-width="0.85"/>
<text x="249.70" y="338.18" font-size="6.1" text-anchor="end" fill="#2a2a2a" stroke="#2a2a2a" stroke-width="0.22">0.6</text>
<line x1="251.70" y1="326.96" x2="253.2" y2="326.96" stroke="#555" stroke-width="0.85"/>
<line x1="250.40" y1="317.94" x2="253.2" y2="317.94" stroke="#555" stroke-width="0.85"/>
<text x="249.70" y="320.14" font-size="6.1" text-anchor="end" fill="#2a2a2a" stroke="#2a2a2a" stroke-width="0.22">0.8</text>
<line x1="251.70" y1="308.92" x2="253.2" y2="308.92" stroke="#555" stroke-width="0.85"/>
<line x1="250.40" y1="299.90" x2="253.2" y2="299.90" stroke="#555" stroke-width="0.85"/>
<text x="249.70" y="302.10" font-size="6.1" text-anchor="end" fill="#2a2a2a" stroke="#2a2a2a" stroke-width="0.22">1.0</text>
<line x1="253.20" y1="390.1" x2="253.20" y2="392.90000000000003" stroke="#555" stroke-width="0.85"/>
<text x="253.20" y="400.10" font-size="6.4" text-anchor="middle" fill="#2a2a2a" stroke="#2a2a2a" stroke-width="0.22">0</text>
<line x1="267.11" y1="390.1" x2="267.11" y2="391.6" stroke="#555" stroke-width="0.85"/>
<line x1="281.02" y1="390.1" x2="281.02" y2="392.90000000000003" stroke="#555" stroke-width="0.85"/>
<text x="281.02" y="400.10" font-size="6.4" text-anchor="middle" fill="#2a2a2a" stroke="#2a2a2a" stroke-width="0.22">12</text>
<line x1="294.93" y1="390.1" x2="294.93" y2="391.6" stroke="#555" stroke-width="0.85"/>
<line x1="308.84" y1="390.1" x2="308.84" y2="392.90000000000003" stroke="#555" stroke-width="0.85"/>
<text x="308.84" y="400.10" font-size="6.4" text-anchor="middle" fill="#2a2a2a" stroke="#2a2a2a" stroke-width="0.22">24</text>
<line x1="322.75" y1="390.1" x2="322.75" y2="391.6" stroke="#555" stroke-width="0.85"/>
<line x1="336.66" y1="390.1" x2="336.66" y2="392.90000000000003" stroke="#555" stroke-width="0.85"/>
<text x="336.66" y="400.10" font-size="6.4" text-anchor="middle" fill="#2a2a2a" stroke="#2a2a2a" stroke-width="0.22">36</text>
<line x1="350.57" y1="390.1" x2="350.57" y2="391.6" stroke="#555" stroke-width="0.85"/>
<line x1="364.48" y1="390.1" x2="364.48" y2="392.90000000000003" stroke="#555" stroke-width="0.85"/>
<text x="364.48" y="400.10" font-size="6.4" text-anchor="middle" fill="#2a2a2a" stroke="#2a2a2a" stroke-width="0.22">48</text>
<line x1="378.39" y1="390.1" x2="378.39" y2="391.6" stroke="#555" stroke-width="0.85"/>
<line x1="392.30" y1="390.1" x2="392.30" y2="392.90000000000003" stroke="#555" stroke-width="0.85"/>
<text x="392.30" y="400.10" font-size="6.4" text-anchor="middle" fill="#2a2a2a" stroke="#2a2a2a" stroke-width="0.22">60</text>
<text x="322.75" y="408.6" font-size="5.9" text-anchor="middle" fill="#333" stroke="#333" stroke-width="0.18">months</text>
<text x="0" y="0" font-size="6.3" text-anchor="middle" fill="#333" stroke="#333" stroke-width="0.1" transform="translate(232.7,345.0) rotate(-90)">fraction surviving</text>
<path d="M253.20,300.30 L255.70,300.30 L255.70,301.60 L257.00,301.60 L257.00,303.40 L257.60,303.40 L257.60,307.10 L259.40,307.10 L259.40,309.60 L264.40,309.60 L264.40,312.10 L265.60,312.10 L265.60,314.60 L268.67,314.60 L268.67,316.13 L271.80,316.13 L271.80,317.70 L274.30,317.70 L274.30,321.50 L278.49,321.50 L278.49,323.88 L281.70,323.88 L281.70,325.70 L285.46,325.70 L285.46,327.95 L287.90,327.95 L287.90,329.40 L290.40,329.40 L290.40,332.30 L295.30,332.30 L295.30,334.40 L298.45,334.40 L298.45,335.11 L302.00,335.11 L302.00,335.90 L306.22,335.90 L306.22,338.52 L309.40,338.52 L309.40,340.50 L312.78,340.50 L312.78,341.78 L314.65,341.78 L314.65,342.48 L316.92,342.48 L316.92,343.34 L320.00,343.34 L320.00,344.50 L322.34,344.50 L322.34,344.90 L325.92,344.90 L325.92,345.52 L328.63,345.52 L328.63,345.99 L331.89,345.99 L331.89,346.55 L333.90,346.55 L333.90,346.90 L337.09,346.90 L337.09,347.14 L338.76,347.14 L338.76,347.27 L341.80,347.27 L341.80,347.50 L344.21,347.50 L344.21,348.03 L347.30,348.03 L347.30,348.71 L350.14,348.71 L350.14,349.33 L354.03,349.33 L354.03,350.18 L357.27,350.18 L357.27,350.89 L359.60,350.89 L359.60,351.40 L363.05,351.40 L363.05,352.64 L364.75,352.64 L364.75,353.25 L368.55,353.25 L368.55,354.62 L370.41,354.62 L370.41,355.29 L373.50,355.29 L373.50,356.40 L376.06,356.40 L376.06,356.67 L379.24,356.67 L379.24,357.01 L380.89,357.01 L380.89,357.19 L383.59,357.19 L383.59,357.47 L387.47,357.47 L387.47,357.89 L389.28,357.89 L389.28,358.08 L392.30,358.08 L392.30,358.40" fill="none" stroke="#b2b2b2" stroke-width="1.15" stroke-linejoin="miter"/>
<path d="M253.20,300.30 L254.34,300.30 L254.34,300.89 L255.70,300.89 L255.70,301.60 L257.00,301.60 L257.00,302.24 L258.32,302.24 L258.32,302.89 L259.06,302.89 L259.06,303.26 L260.55,303.26 L260.55,304.00 L261.87,304.00 L261.87,304.65 L263.15,304.65 L263.15,305.28 L264.40,305.28 L264.40,305.90 L265.33,305.90 L265.33,306.37 L266.71,306.37 L266.71,307.06 L268.09,307.06 L268.09,307.74 L268.84,307.74 L268.84,308.12 L270.07,308.12 L270.07,308.73 L270.91,308.73 L270.91,309.15 L272.14,309.15 L272.14,309.77 L273.53,309.77 L273.53,310.47 L274.28,310.47 L274.28,310.84 L275.93,310.84 L275.93,311.67 L276.80,311.67 L276.80,312.10 L278.19,312.10 L278.19,312.65 L278.77,312.65 L278.77,312.88 L280.45,312.88 L280.45,313.55 L281.19,313.55 L281.19,313.85 L282.57,313.85 L282.57,314.40 L283.68,314.40 L283.68,314.84 L284.49,314.84 L284.49,315.16 L285.86,315.16 L285.86,315.71 L286.97,315.71 L286.97,316.15 L288.19,316.15 L288.19,316.64 L289.10,316.64 L289.10,317.00 L290.11,317.00 L290.11,317.39 L291.62,317.39 L291.62,317.98 L292.94,317.98 L292.94,318.49 L293.91,318.49 L293.91,318.87 L294.99,318.87 L294.99,319.28 L295.86,319.28 L295.86,319.62 L297.30,319.62 L297.30,320.18 L298.38,320.18 L298.38,320.60 L299.81,320.60 L299.81,321.15 L300.95,321.15 L300.95,321.59 L302.00,321.59 L302.00,322.00 L303.28,322.00 L303.28,322.35 L304.23,322.35 L304.23,322.60 L305.81,322.60 L305.81,323.03 L307.03,323.03 L307.03,323.36 L307.93,323.36 L307.93,323.60 L309.40,323.60 L309.40,324.00 L310.85,324.00 L310.85,324.37 L311.87,324.37 L311.87,324.63 L312.67,324.63 L312.67,324.83 L314.42,324.83 L314.42,325.28 L315.04,325.28 L315.04,325.44 L316.35,325.44 L316.35,325.77 L317.80,325.77 L317.80,326.14 L318.89,326.14 L318.89,326.42 L320.00,326.42 L320.00,326.70 L321.22,326.70 L321.22,327.32 L322.46,327.32 L322.46,327.95 L323.51,327.95 L323.51,328.48 L324.59,328.48 L324.59,329.03 L325.90,329.03 L325.90,329.70 L326.79,329.70 L326.79,329.96 L327.82,329.96 L327.82,330.26 L329.34,330.26 L329.34,330.71 L330.47,330.71 L330.47,331.04 L331.43,331.04 L331.43,331.32 L332.66,331.32 L332.66,331.68 L333.51,331.68 L333.51,331.93 L334.55,331.93 L334.55,332.23 L335.80,332.23 L335.80,332.60 L336.88,332.60 L336.88,332.76 L338.38,332.76 L338.38,332.97 L338.96,332.97 L338.96,333.05 L340.44,333.05 L340.44,333.27 L341.42,333.27 L341.42,333.41 L342.94,333.41 L342.94,333.63 L343.81,333.63 L343.81,333.75 L344.95,333.75 L344.95,333.92 L346.16,333.92 L346.16,334.09 L347.41,334.09 L347.41,334.27 L348.73,334.27 L348.73,334.46 L349.70,334.46 L349.70,334.60 L350.70,334.60 L350.70,334.78 L352.13,334.78 L352.13,335.04 L352.74,335.04 L352.74,335.15 L353.95,335.15 L353.95,335.37 L354.94,335.37 L354.94,335.55 L356.04,335.55 L356.04,335.75 L357.58,335.75 L357.58,336.03 L358.65,336.03 L358.65,336.23 L359.39,336.23 L359.39,336.36 L360.49,336.36 L360.49,336.56 L361.74,336.56 L361.74,336.79 L363.06,336.79 L363.06,337.03 L364.21,337.03 L364.21,337.24 L365.26,337.24 L365.26,337.43 L366.26,337.43 L366.26,337.61 L367.07,337.61 L367.07,337.76 L368.33,337.76 L368.33,337.99 L369.50,337.99 L369.50,338.20 L370.43,338.20 L370.43,338.35 L371.80,338.35 L371.80,338.57 L372.97,338.57 L372.97,338.76 L373.86,338.76 L373.86,338.91 L375.03,338.91 L375.03,339.10 L376.53,339.10 L376.53,339.34 L377.16,339.34 L377.16,339.44 L378.83,339.44 L378.83,339.71 L380.03,339.71 L380.03,339.91 L381.21,339.91 L381.21,340.10 L381.96,340.10 L381.96,340.22 L383.22,340.22 L383.22,340.43 L384.38,340.43 L384.38,340.61 L385.55,340.61 L385.55,340.80 L386.93,340.80 L386.93,341.03 L387.87,341.03 L387.87,341.18 L388.74,341.18 L388.74,341.32 L390.27,341.32 L390.27,341.57 L391.15,341.57 L391.15,341.71 L392.30,341.71 L392.30,341.90" fill="none" stroke="#454545" stroke-width="1.1" stroke-linejoin="miter"/>
<path d="M253.20,300.30 L290.60,300.30 L290.60,302.90 L323.00,302.90 L323.00,305.30 L341.80,305.30 L341.80,308.50 L369.50,308.50 L369.50,311.80 L371.86,311.80 L371.86,311.88 L374.25,311.88 L374.25,311.96 L375.51,311.96 L375.51,312.00 L378.76,312.00 L378.76,312.11 L380.84,312.11 L380.84,312.18 L382.84,312.18 L382.84,312.25 L385.11,312.25 L385.11,312.33 L387.30,312.33 L387.30,312.40 L388.30,312.40 L388.30,315.20 L392.30,315.20" fill="none" stroke="#1c1c1c" stroke-width="1.2" stroke-linejoin="miter"/>
<line x1="255" y1="365.7" x2="261" y2="365.7" stroke="#1c1c1c" stroke-width="1.3"/>
<text x="264.4" y="368.1" font-size="6.7" fill="#2a2a2a" stroke="#2a2a2a" stroke-width="0.22">1 (n=31)</text>
<line x1="255" y1="373.7" x2="261" y2="373.7" stroke="#454545" stroke-width="1.2"/>
<text x="264.4" y="376.1" font-size="6.7" fill="#2a2a2a" stroke="#2a2a2a" stroke-width="0.22">2 (n=1176)</text>
<line x1="255" y1="381.7" x2="261" y2="381.7" stroke="#b2b2b2" stroke-width="1.2"/>
<text x="264.4" y="384.1" font-size="6.7" fill="#2a2a2a" stroke="#2a2a2a" stroke-width="0.22">3 (n=177)</text>
<text x="390.4" y="387.0" font-size="8.2" text-anchor="end" fill="#222" stroke="#222" stroke-width="0.12">p&lt;0.0001</text>
<text x="232.3" y="417.7" font-size="10" font-weight="bold" font-family="'Liberation Serif', serif" fill="#111">e)</text>
<text x="313" y="423.0" font-size="9.6" text-anchor="middle" fill="#222" stroke="#222" stroke-width="0.18" textLength="71" lengthAdjust="spacingAndGlyphs">SHIP1 expression</text>
<path d="M253.0,433.3 H391.5 V524.0" fill="none" stroke="#909090" stroke-width="0.8"/>
<path d="M253.0,433.3 V524.0 H391.5" fill="none" stroke="#555" stroke-width="1.0"/>
<line x1="250.20" y1="524.00" x2="253.0" y2="524.00" stroke="#555" stroke-width="0.85"/>
<text x="249.50" y="526.20" font-size="6.1" text-anchor="end" fill="#2a2a2a" stroke="#2a2a2a" stroke-width="0.22">0.0</text>
<line x1="251.50" y1="514.93" x2="253.0" y2="514.93" stroke="#555" stroke-width="0.85"/>
<line x1="250.20" y1="505.86" x2="253.0" y2="505.86" stroke="#555" stroke-width="0.85"/>
<text x="249.50" y="508.06" font-size="6.1" text-anchor="end" fill="#2a2a2a" stroke="#2a2a2a" stroke-width="0.22">0.2</text>
<line x1="251.50" y1="496.79" x2="253.0" y2="496.79" stroke="#555" stroke-width="0.85"/>
<line x1="250.20" y1="487.72" x2="253.0" y2="487.72" stroke="#555" stroke-width="0.85"/>
<text x="249.50" y="489.92" font-size="6.1" text-anchor="end" fill="#2a2a2a" stroke="#2a2a2a" stroke-width="0.22">0.4</text>
<line x1="251.50" y1="478.65" x2="253.0" y2="478.65" stroke="#555" stroke-width="0.85"/>
<line x1="250.20" y1="469.58" x2="253.0" y2="469.58" stroke="#555" stroke-width="0.85"/>
<text x="249.50" y="471.78" font-size="6.1" text-anchor="end" fill="#2a2a2a" stroke="#2a2a2a" stroke-width="0.22">0.6</text>
<line x1="251.50" y1="460.51" x2="253.0" y2="460.51" stroke="#555" stroke-width="0.85"/>
<line x1="250.20" y1="451.44" x2="253.0" y2="451.44" stroke="#555" stroke-width="0.85"/>
<text x="249.50" y="453.64" font-size="6.1" text-anchor="end" fill="#2a2a2a" stroke="#2a2a2a" stroke-width="0.22">0.8</text>
<line x1="251.50" y1="442.37" x2="253.0" y2="442.37" stroke="#555" stroke-width="0.85"/>
<line x1="250.20" y1="433.30" x2="253.0" y2="433.30" stroke="#555" stroke-width="0.85"/>
<text x="249.50" y="435.50" font-size="6.1" text-anchor="end" fill="#2a2a2a" stroke="#2a2a2a" stroke-width="0.22">1.0</text>
<line x1="253.00" y1="524.0" x2="253.00" y2="526.8" stroke="#555" stroke-width="0.85"/>
<text x="253.00" y="533.60" font-size="6.4" text-anchor="middle" fill="#2a2a2a" stroke="#2a2a2a" stroke-width="0.22">0</text>
<line x1="266.85" y1="524.0" x2="266.85" y2="525.5" stroke="#555" stroke-width="0.85"/>
<line x1="280.70" y1="524.0" x2="280.70" y2="526.8" stroke="#555" stroke-width="0.85"/>
<text x="280.70" y="533.60" font-size="6.4" text-anchor="middle" fill="#2a2a2a" stroke="#2a2a2a" stroke-width="0.22">12</text>
<line x1="294.55" y1="524.0" x2="294.55" y2="525.5" stroke="#555" stroke-width="0.85"/>
<line x1="308.40" y1="524.0" x2="308.40" y2="526.8" stroke="#555" stroke-width="0.85"/>
<text x="308.40" y="533.60" font-size="6.4" text-anchor="middle" fill="#2a2a2a" stroke="#2a2a2a" stroke-width="0.22">24</text>
<line x1="322.25" y1="524.0" x2="322.25" y2="525.5" stroke="#555" stroke-width="0.85"/>
<line x1="336.10" y1="524.0" x2="336.10" y2="526.8" stroke="#555" stroke-width="0.85"/>
<text x="336.10" y="533.60" font-size="6.4" text-anchor="middle" fill="#2a2a2a" stroke="#2a2a2a" stroke-width="0.22">36</text>
<line x1="349.95" y1="524.0" x2="349.95" y2="525.5" stroke="#555" stroke-width="0.85"/>
<line x1="363.80" y1="524.0" x2="363.80" y2="526.8" stroke="#555" stroke-width="0.85"/>
<text x="363.80" y="533.60" font-size="6.4" text-anchor="middle" fill="#2a2a2a" stroke="#2a2a2a" stroke-width="0.22">48</text>
<line x1="377.65" y1="524.0" x2="377.65" y2="525.5" stroke="#555" stroke-width="0.85"/>
<line x1="391.50" y1="524.0" x2="391.50" y2="526.8" stroke="#555" stroke-width="0.85"/>
<text x="391.50" y="533.60" font-size="6.4" text-anchor="middle" fill="#2a2a2a" stroke="#2a2a2a" stroke-width="0.22">60</text>
<text x="322.25" y="542.8" font-size="5.9" text-anchor="middle" fill="#333" stroke="#333" stroke-width="0.18">months</text>
<text x="0" y="0" font-size="6.3" text-anchor="middle" fill="#333" stroke="#333" stroke-width="0.1" transform="translate(232.7,478.6) rotate(-90)">fraction surviving</text>
<path d="M253.20,433.50 L255.22,433.50 L255.22,434.18 L256.95,434.18 L256.95,434.77 L259.40,434.77 L259.40,435.60 L261.94,435.60 L261.94,436.55 L263.71,436.55 L263.71,437.21 L266.90,437.21 L266.90,438.40 L269.37,438.40 L269.37,439.87 L272.05,439.87 L272.05,441.46 L274.30,441.46 L274.30,442.80 L276.68,442.80 L276.68,443.77 L279.33,443.77 L279.33,444.84 L281.70,444.84 L281.70,445.80 L284.85,445.80 L284.85,446.78 L287.21,446.78 L287.21,447.51 L289.10,447.51 L289.10,448.10 L291.05,448.10 L291.05,448.86 L294.54,448.86 L294.54,450.20 L296.60,450.20 L296.60,451.00 L299.25,451.00 L299.25,451.82 L300.87,451.82 L300.87,452.33 L304.00,452.33 L304.00,453.30 L306.00,453.30 L306.00,454.22 L308.01,454.22 L308.01,455.14 L309.99,455.14 L309.99,456.05 L312.77,456.05 L312.77,457.32 L314.90,457.32 L314.90,458.30 L317.46,458.30 L317.46,459.01 L318.76,459.01 L318.76,459.37 L321.47,459.37 L321.47,460.11 L323.29,460.11 L323.29,460.62 L324.64,460.62 L324.64,460.99 L327.56,460.99 L327.56,461.80 L329.29,461.80 L329.29,462.27 L331.20,462.27 L331.20,462.80 L334.09,462.80 L334.09,463.53 L336.10,463.53 L336.10,464.04 L338.43,464.04 L338.43,464.63 L340.18,464.63 L340.18,465.08 L343.12,465.08 L343.12,465.82 L345.00,465.82 L345.00,466.30 L347.60,466.30 L347.60,466.40 L349.58,466.40 L349.58,466.48 L351.12,466.48 L351.12,466.55 L353.59,466.55 L353.59,466.65 L355.31,466.65 L355.31,466.72 L357.40,466.72 L357.40,466.80 L358.98,466.80 L358.98,466.95 L360.97,466.95 L360.97,467.15 L363.08,467.15 L363.08,467.35 L365.30,467.35 L365.30,467.56 L367.31,467.56 L367.31,467.76 L369.80,467.76 L369.80,468.00 L371.85,468.00 L371.85,468.20 L374.15,468.20 L374.15,468.42 L376.00,468.42 L376.00,468.60 L377.90,468.60 L377.90,468.79 L380.23,468.79 L380.23,469.02 L382.10,469.02 L382.10,469.20 L384.15,469.20 L384.15,469.49 L386.70,469.49 L386.70,469.84 L389.43,469.84 L389.43,470.23 L391.40,470.23 L391.40,470.50" fill="none" stroke="#b2b2b2" stroke-width="1.0" stroke-linejoin="miter"/>
<path d="M253.20,433.50 L255.14,433.50 L255.14,434.28 L256.94,434.28 L256.94,435.01 L259.40,435.01 L259.40,436.00 L261.72,436.00 L261.72,436.90 L263.40,436.90 L263.40,437.55 L264.88,437.55 L264.88,438.12 L266.90,438.12 L266.90,438.90 L268.61,438.90 L268.61,439.94 L270.63,439.94 L270.63,441.17 L272.56,441.17 L272.56,442.34 L274.30,442.34 L274.30,443.40 L275.84,443.40 L275.84,444.00 L277.45,444.00 L277.45,444.63 L279.53,444.63 L279.53,445.45 L281.70,445.45 L281.70,446.30 L283.86,446.30 L283.86,446.97 L285.00,446.97 L285.00,447.33 L287.21,447.33 L287.21,448.01 L289.10,448.01 L289.10,448.60 L290.63,448.60 L290.63,449.19 L292.52,449.19 L292.52,449.92 L294.35,449.92 L294.35,450.63 L296.60,450.63 L296.60,451.50 L298.34,451.50 L298.34,452.04 L299.93,452.04 L299.93,452.54 L301.63,452.54 L301.63,453.06 L304.00,453.06 L304.00,453.80 L305.25,453.80 L305.25,454.31 L306.94,454.31 L306.94,455.00 L308.90,455.00 L308.90,455.80 L310.89,455.80 L310.89,456.79 L312.37,456.79 L312.37,457.54 L314.90,457.54 L314.90,458.80 L316.22,458.80 L316.22,459.07 L318.54,459.07 L318.54,459.54 L320.35,459.54 L320.35,459.90 L322.30,459.90 L322.30,460.30 L324.30,460.30 L324.30,460.97 L325.38,460.97 L325.38,461.34 L327.54,461.34 L327.54,462.07 L329.31,462.07 L329.31,462.66 L331.20,462.66 L331.20,463.30 L332.61,463.30 L332.61,463.87 L335.68,463.87 L335.68,465.12 L337.10,465.12 L337.10,465.70 L338.66,465.70 L338.66,465.87 L340.39,465.87 L340.39,466.05 L342.70,466.05 L342.70,466.30 L344.60,466.30 L344.60,466.50 L346.06,466.50 L346.06,466.69 L348.39,466.69 L348.39,467.00 L349.92,467.00 L349.92,467.21 L351.50,467.21 L351.50,467.42 L353.25,467.42 L353.25,467.65 L355.82,467.65 L355.82,467.99 L357.40,467.99 L357.40,468.20 L358.93,468.20 L358.93,468.42 L361.25,468.42 L361.25,468.76 L362.68,468.76 L362.68,468.97 L364.95,468.97 L364.95,469.30 L366.05,469.30 L366.05,469.45 L367.76,469.45 L367.76,469.70 L369.80,469.70 L369.80,470.00 L371.31,470.00 L371.31,470.15 L373.65,470.15 L373.65,470.38 L375.21,470.38 L375.21,470.53 L376.66,470.53 L376.66,470.67 L378.16,470.67 L378.16,470.82 L380.54,470.82 L380.54,471.05 L382.10,471.05 L382.10,471.20 L384.48,471.20 L384.48,471.41 L385.92,471.41 L385.92,471.53 L387.13,471.53 L387.13,471.63 L389.02,471.63 L389.02,471.79 L391.40,471.79 L391.40,472.00" fill="none" stroke="#767676" stroke-width="0.9" stroke-linejoin="miter"/>
<path d="M253.20,433.50 L254.76,433.50 L254.76,434.25 L256.92,434.25 L256.92,435.30 L259.40,435.30 L259.40,436.50 L260.75,436.50 L260.75,437.06 L262.65,437.06 L262.65,437.84 L265.20,437.84 L265.20,438.90 L266.90,438.90 L266.90,439.60 L269.19,439.60 L269.19,440.96 L270.27,440.96 L270.27,441.60 L272.98,441.60 L272.98,443.21 L274.30,443.21 L274.30,444.00 L276.12,444.00 L276.12,444.69 L278.34,444.69 L278.34,445.53 L280.31,445.53 L280.31,446.28 L281.70,446.28 L281.70,446.80 L284.04,446.80 L284.04,447.56 L284.88,447.56 L284.88,447.83 L287.03,447.83 L287.03,448.53 L289.10,448.53 L289.10,449.20 L291.10,449.20 L291.10,450.02 L293.35,450.02 L293.35,450.96 L294.26,450.96 L294.26,451.33 L296.60,451.33 L296.60,452.30 L298.22,452.30 L298.22,452.80 L300.69,452.80 L300.69,453.57 L301.72,453.57 L301.72,453.89 L304.00,453.89 L304.00,454.60 L306.29,454.60 L306.29,455.49 L308.90,455.49 L308.90,456.50 L310.70,456.50 L310.70,457.34 L313.12,457.34 L313.12,458.47 L314.90,458.47 L314.90,459.30 L317.23,459.30 L317.23,459.77 L318.24,459.77 L318.24,459.98 L320.72,459.98 L320.72,460.48 L322.30,460.48 L322.30,460.80 L324.84,460.80 L324.84,461.66 L327.20,461.66 L327.20,462.45 L329.05,462.45 L329.05,463.07 L331.20,463.07 L331.20,463.80 L333.67,463.80 L333.67,465.01 L334.97,465.01 L334.97,465.65 L337.10,465.65 L337.10,466.70 L338.88,466.70 L338.88,466.89 L340.55,466.89 L340.55,467.07 L343.04,467.07 L343.04,467.33 L344.60,467.33 L344.60,467.50 L346.41,467.50 L346.41,467.74 L348.00,467.74 L348.00,467.95 L349.72,467.95 L349.72,468.18 L352.16,468.18 L352.16,468.50 L353.86,468.50 L353.86,468.73 L355.80,468.73 L355.80,468.99 L357.40,468.99 L357.40,469.20 L359.33,469.20 L359.33,469.50 L361.52,469.50 L361.52,469.83 L363.17,469.83 L363.17,470.08 L365.93,470.08 L365.93,470.51 L367.14,470.51 L367.14,470.69 L369.80,470.69 L369.80,471.10 L371.81,471.10 L371.81,471.41 L374.22,471.41 L374.22,471.78 L376.17,471.78 L376.17,472.08 L377.50,472.08 L377.50,472.29 L379.73,472.29 L379.73,472.63 L382.10,472.63 L382.10,473.00 L384.34,473.00 L384.34,473.36 L385.98,473.36 L385.98,473.63 L388.10,473.63 L388.10,473.97 L389.96,473.97 L389.96,474.27 L391.40,474.27 L391.40,474.50" fill="none" stroke="#454545" stroke-width="0.9" stroke-linejoin="miter"/>
<path d="M253.20,433.50 L257.20,433.50 L257.20,436.70 L257.20,438.20 L260.90,438.20 L263.81,438.20 L263.81,439.61 L266.90,439.61 L266.90,441.10 L271.30,441.10 L271.30,444.10 L271.30,445.60 L275.80,445.60 L275.80,446.30 L280.20,446.30 L280.20,447.80 L283.91,447.80 L283.91,448.73 L286.20,448.73 L286.20,449.30 L289.16,449.30 L289.16,450.58 L291.14,450.58 L291.14,451.44 L293.80,451.44 L293.80,452.59 L296.60,452.59 L296.60,453.80 L298.43,453.80 L298.43,454.35 L301.38,454.35 L301.38,455.22 L304.00,455.22 L304.00,456.00 L307.12,456.00 L307.12,456.64 L308.90,456.64 L308.90,457.00 L311.19,457.00 L311.19,458.07 L314.90,458.07 L314.90,459.80 L317.47,459.80 L317.47,460.32 L319.26,460.32 L319.26,460.68 L322.30,460.68 L322.30,461.30 L324.52,461.30 L324.52,462.05 L328.50,462.05 L328.50,463.39 L331.20,463.39 L331.20,464.30 L333.69,464.30 L333.69,465.52 L337.10,465.52 L337.10,467.20 L338.92,467.20 L338.92,467.35 L341.58,467.35 L341.58,467.56 L344.60,467.56 L344.60,467.80 L348.19,467.80 L348.19,468.56 L351.20,468.56 L351.20,469.20 L354.46,469.20 L354.46,470.51 L357.40,470.51 L357.40,471.70 L359.15,471.70 L359.15,471.78 L361.96,471.78 L361.96,471.92 L365.54,471.92 L365.54,472.09 L366.90,472.09 L366.90,472.16 L369.80,472.16 L369.80,472.30 L372.35,472.30 L372.35,472.57 L374.60,472.57 L374.60,472.81 L377.59,472.81 L377.59,473.12 L379.79,473.12 L379.79,473.36 L382.10,473.36 L382.10,473.60 L385.80,473.60 L385.80,475.40 L389.08,475.40 L389.08,476.51 L391.40,476.51 L391.40,477.30" fill="none" stroke="#1c1c1c" stroke-width="1.0" stroke-linejoin="miter"/>
<line x1="255" y1="491.8" x2="261" y2="491.8" stroke="#1c1c1c" stroke-width="1.3"/>
<text x="264.4" y="494.2" font-size="6.3" fill="#2a2a2a" stroke="#2a2a2a" stroke-width="0.22">negative</text>
<text x="294.4" y="494.4" font-size="7.0" fill="#2a2a2a" stroke="#2a2a2a" stroke-width="0.22">(n=102)</text>
<line x1="255" y1="499.3" x2="261" y2="499.3" stroke="#454545" stroke-width="1.2"/>
<text x="264.4" y="501.7" font-size="6.3" fill="#2a2a2a" stroke="#2a2a2a" stroke-width="0.22">weak</text>
<text x="294.4" y="501.9" font-size="7.0" fill="#2a2a2a" stroke="#2a2a2a" stroke-width="0.22">(n=268)</text>
<line x1="255" y1="506.8" x2="261" y2="506.8" stroke="#767676" stroke-width="1.2"/>
<text x="264.4" y="509.2" font-size="6.3" fill="#2a2a2a" stroke="#2a2a2a" stroke-width="0.22">moderate</text>
<text x="294.4" y="510.3" font-size="7.0" fill="#2a2a2a" stroke="#2a2a2a" stroke-width="0.22">(n=446)</text>
<line x1="255" y1="514.3" x2="261" y2="514.3" stroke="#b2b2b2" stroke-width="1.2"/>
<text x="264.4" y="516.7" font-size="6.3" fill="#2a2a2a" stroke="#2a2a2a" stroke-width="0.22">strong</text>
<text x="294.4" y="517.9" font-size="7.0" fill="#2a2a2a" stroke="#2a2a2a" stroke-width="0.22">(n=157)</text>
<text x="389.7" y="443.6" font-size="8.2" text-anchor="end" fill="#222" stroke="#222" stroke-width="0.12">p=0.5309</text>
</svg>
</body></html>
